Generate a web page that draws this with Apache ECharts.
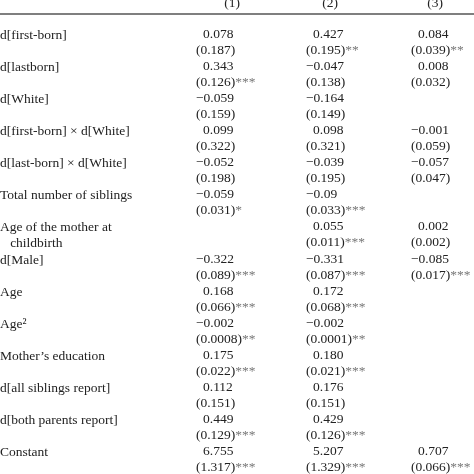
<!DOCTYPE html><html><head><meta charset="utf-8"><script src="https://cdn.jsdelivr.net/npm/echarts@6/dist/echarts.min.js"></script>
<style>html,body{margin:0;background:#fff}#c{width:474px;height:474px}</style></head><body><div id="c"></div><script>
const headers=["(1)","(2)","(3)"];
const labels=["d[first-born]","d[lastborn]","d[White]","d[first-born] × d[White]","d[last-born] × d[White]","Total number of siblings","Age of the mother at\n   childbirth","d[Male]","Age","Age²","Mother’s education","d[all siblings report]","d[both parents report]","Constant"];
const coef1=["0.078","0.343","−0.059","0.099","−0.052","−0.059","","−0.322","0.168","−0.002","0.175","0.112","0.449","6.755"];
const se1=["(0.187)","(0.126)***","(0.159)","(0.322)","(0.198)","(0.031)*","","(0.089)***","(0.066)***","(0.0008)**","(0.022)***","(0.151)","(0.129)***","(1.317)***"];
const coef2=["0.427","−0.047","−0.164","0.098","−0.039","−0.09","0.055","−0.331","0.172","−0.002","0.180","0.176","0.429","5.207"];
const se2=["(0.195)**","(0.138)","(0.149)","(0.321)","(0.195)","(0.033)***","(0.011)***","(0.087)***","(0.068)***","(0.0001)**","(0.021)***","(0.151)","(0.126)***","(1.329)***"];
const coef3=["0.084","0.008","","−0.001","−0.057","","0.002","−0.085","","","","","","0.707"];
const se3=["(0.039)**","(0.032)","","(0.059)","(0.047)","","(0.002)","(0.017)***","","","","","","(0.066)***"];
const colX=[203,313,418], headX=[232,330,435];
const font='13.5px "Liberation Serif"', col='#222';
const els=[];
els.push({type:'line',shape:{x1:0,y1:14,x2:474,y2:14},style:{stroke:'#555',lineWidth:1.5}});
headers.forEach((h,i)=>els.push({type:'text',x:headX[i],y:3,style:{text:h,font,fill:col,align:'center',verticalAlign:'middle'}}));
const y0=34,dy=32.15;
function num(s,x,y){if(!s)return; const neg=s[0]==='−'; const m=s.match(/^([^*]*)(\**)$/);
 els.push({type:'text',x:neg?x-7:x,y,style:{rich:{a:{font,fill:col},b:{font,fill:'#777'}},text:'{a|'+m[1]+'}'+(m[2]?'{b|'+m[2]+'}':''),font,verticalAlign:'middle'}});}
labels.forEach((l,i)=>{const y=y0+i*dy;
 els.push({type:'text',x:0,y:y-7,style:{text:l,font,fill:col,lineHeight:16,verticalAlign:'top'}});
 const cs=[coef1,coef2,coef3], ss=[se1,se2,se3];
 for(let k=0;k<3;k++){num(cs[k][i],colX[k],y); const s=ss[k][i]; num(s,colX[k]-7,y+16);}
});
const ch=echarts.init(document.getElementById('c'));
ch.setOption({animation:false,graphic:els});
</script></body></html>
